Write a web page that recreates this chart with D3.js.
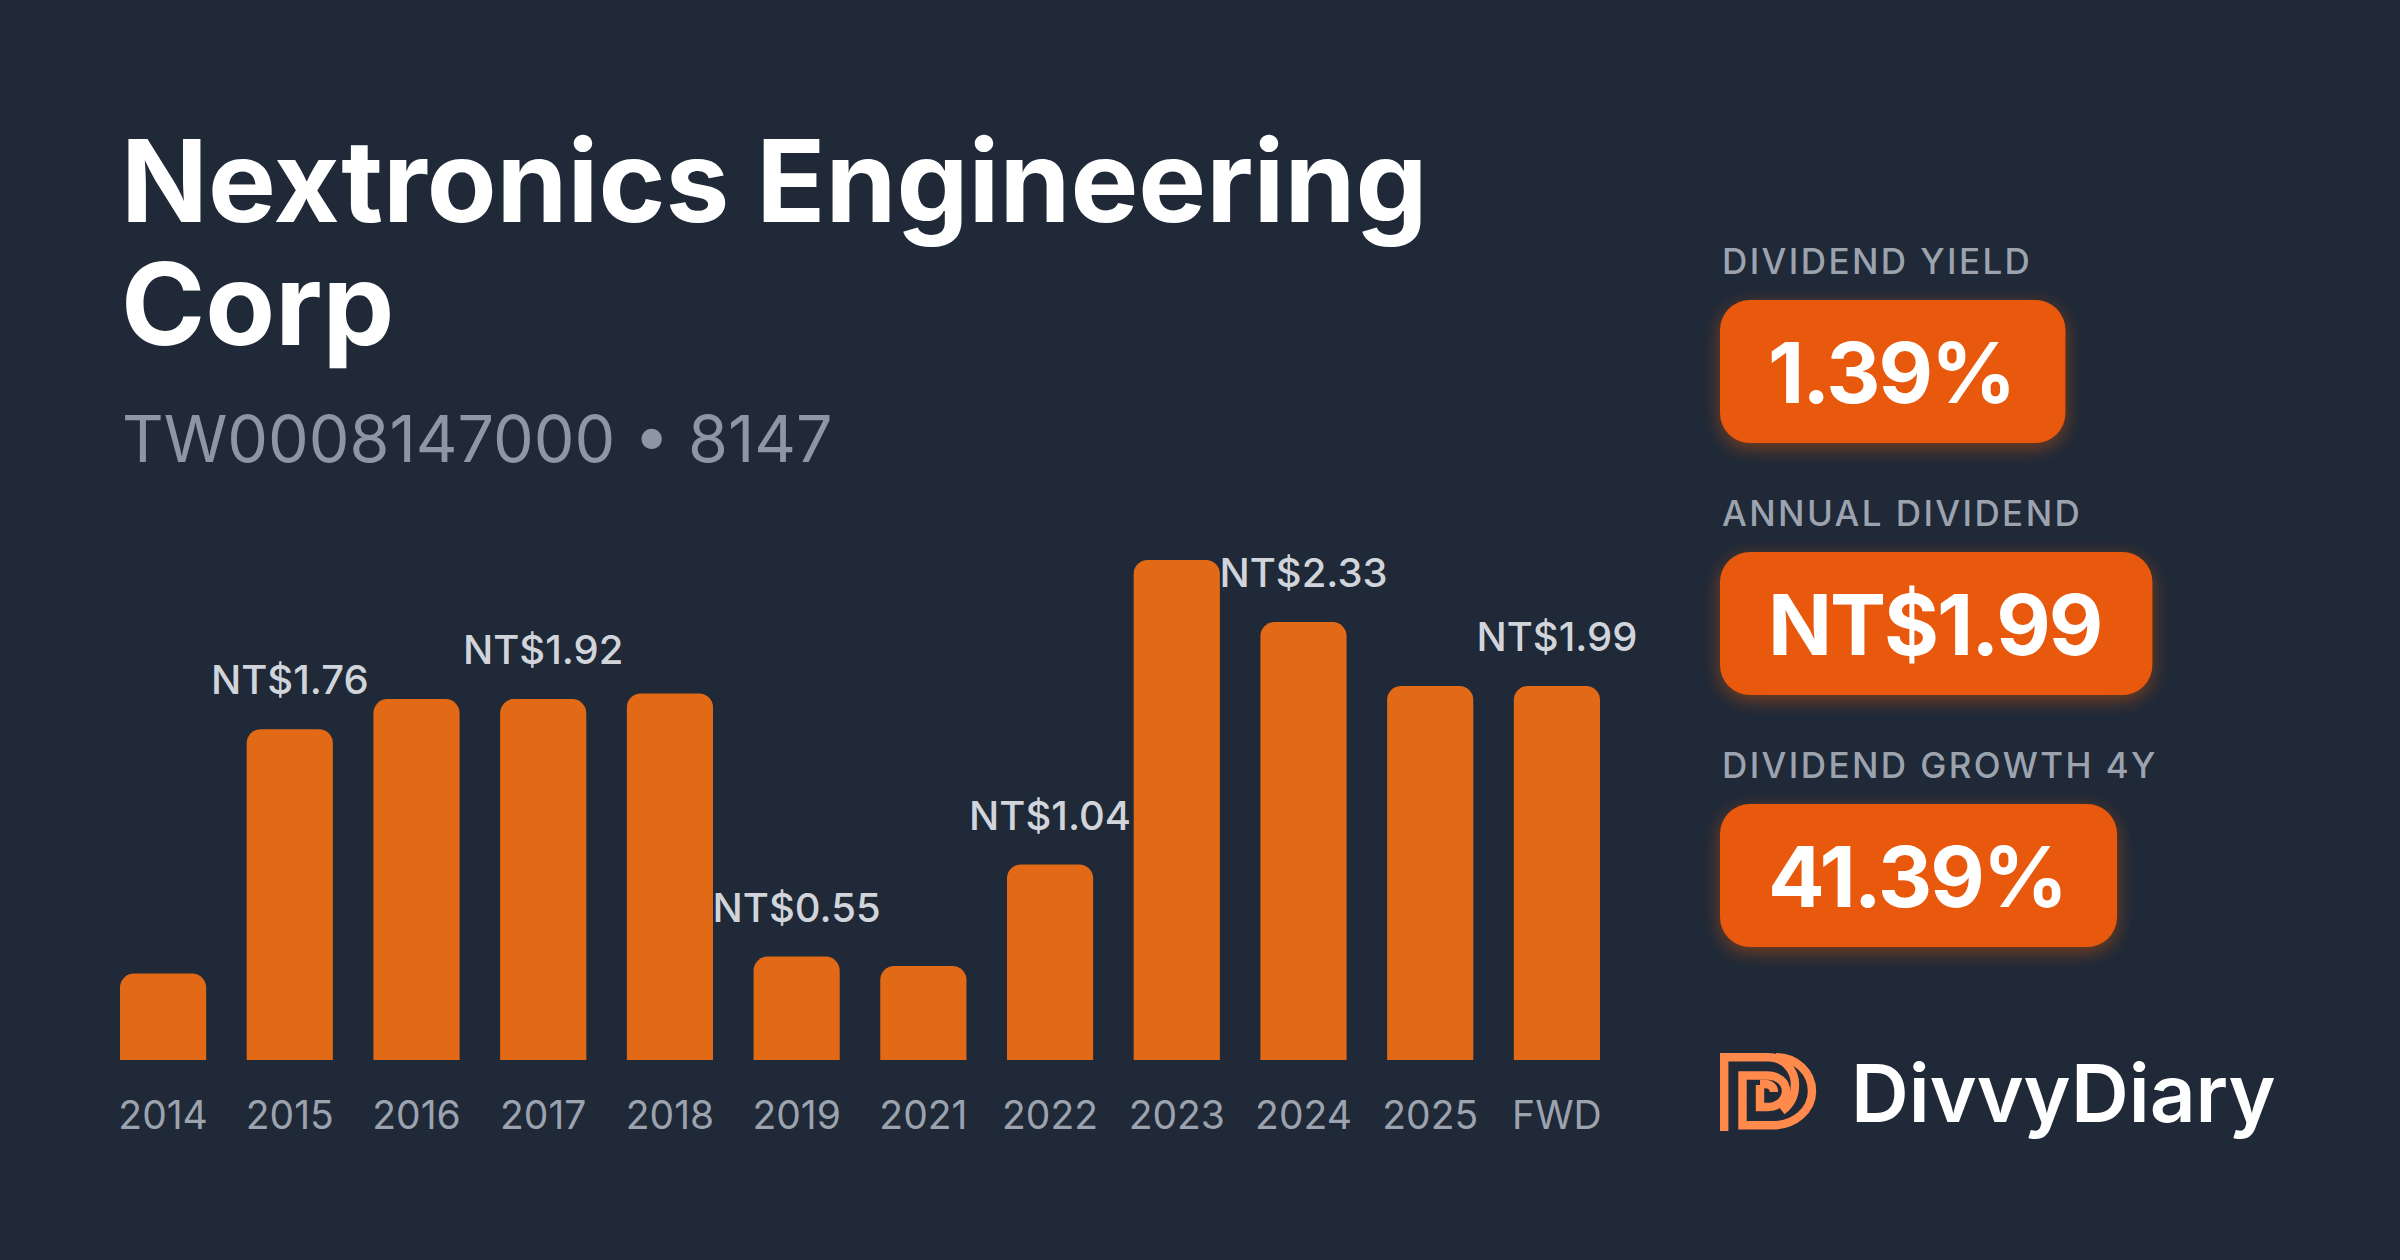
<!DOCTYPE html>
<html>
<head>
<meta charset="utf-8">
<script src="https://cdn.jsdelivr.net/npm/d3@7"></script>
<style>
  body { margin: 0; background: #1f2937; }
  svg { display: block; font-family: Inter, "Noto Sans", sans-serif; }
</style>
</head>
<body>
<script>
// data
const years = ["2014", "2015", "2016", "2017", "2018", "2019", "2021", "2022", "2023", "2024", "2025", "FWD"];
const dividends = [0.46, 1.76, 1.92, 1.92, 1.95, 0.55, 0.50, 1.04, 2.66, 2.33, 1.99, 1.99];
const labeledYears = ["2015", "2017", "2019", "2022", "2024", "FWD"];

const statLabels = ["DIVIDEND YIELD", "ANNUAL DIVIDEND", "DIVIDEND GROWTH 4Y"];
const statValues = ["1.39%", "NT$1.99", "41.39%"];

const titleLines = ["Nextronics Engineering", "Corp"];
const subtitle = "TW0008147000 \u2022 8147";
// data

const width = 2400, height = 1260;
const barColor = "#e26a17";

const svg = d3.select("body").append("svg")
  .attr("width", width)
  .attr("height", height);

svg.append("rect")
  .attr("width", width)
  .attr("height", height)
  .attr("fill", "#1f2937");

const defs = svg.append("defs");
const glow = defs.append("filter")
  .attr("id", "glow")
  .attr("x", "-20%").attr("y", "-30%")
  .attr("width", "140%").attr("height", "160%");
glow.append("feDropShadow")
  .attr("dx", 0).attr("dy", 5)
  .attr("stdDeviation", 9)
  .attr("flood-color", "#ea580c")
  .attr("flood-opacity", 0.45);

// title
svg.selectAll(".title")
  .data(titleLines)
  .enter().append("text")
  .attr("class", "title")
  .attr("x", 121)
  .attr("y", (d, i) => 222 + i * 123)
  .attr("fill", "#ffffff")
  .attr("font-size", 114)
  .attr("font-weight", 700)
  .text(d => d);

svg.append("text")
  .attr("x", 122)
  .attr("y", 462)
  .attr("fill", "#8f96a3")
  .attr("font-size", 64.6)
  .text(subtitle);

// scales
const x = d3.scaleBand()
  .domain(years)
  .range([120, 1600])
  .paddingInner(0.32)
  .paddingOuter(0);

const y = d3.scaleLinear()
  .domain([0, d3.max(dividends)])
  .range([1060, 560]);

const data = years.map((d, i) => ({ year: d, value: dividends[i] }));

// bars with rounded top corners
function barPath(d) {
  const x0 = x(d.year), w = x.bandwidth();
  const top = y(d.value), base = y(0);
  const r = Math.min(14, (base - top) / 2);
  const p = d3.path();
  p.moveTo(x0, base);
  p.lineTo(x0, top + r);
  p.arcTo(x0, top, x0 + r, top, r);
  p.lineTo(x0 + w - r, top);
  p.arcTo(x0 + w, top, x0 + w, top + r, r);
  p.lineTo(x0 + w, base);
  p.closePath();
  return p.toString();
}

svg.selectAll(".bar")
  .data(data)
  .enter().append("path")
  .attr("class", "bar")
  .attr("d", barPath)
  .attr("fill", barColor);

svg.selectAll(".bar-label")
  .data(data.filter(d => labeledYears.includes(d.year)))
  .enter().append("text")
  .attr("class", "bar-label")
  .attr("x", d => x(d.year) + x.bandwidth() / 2)
  .attr("y", d => y(d.value) - 35)
  .attr("text-anchor", "middle")
  .attr("fill", "#d1d5db")
  .attr("font-size", 40)
  .attr("font-weight", 500)
  .text(d => "NT$" + d3.format(".2f")(d.value));

// x axis
const xAxis = svg.append("g")
  .attr("transform", `translate(0, ${y(0)})`)
  .call(d3.axisBottom(x).tickSize(0).tickPadding(41));
xAxis.select(".domain").remove();
xAxis.selectAll("text")
  .attr("fill", "#9ca3af")
  .attr("font-size", 39)
  .attr("font-family", "Inter, sans-serif");

// stats panel
const stat = svg.selectAll(".stat")
  .data(statLabels.map((d, i) => ({ label: d, value: statValues[i] })))
  .enter().append("g")
  .attr("class", "stat")
  .attr("transform", (d, i) => `translate(1720, ${248 + i * 252})`);

stat.append("text")
  .attr("x", 2)
  .attr("y", 26)
  .attr("fill", "#9ca3af")
  .attr("font-size", 35)
  .attr("font-weight", 500)
  .attr("letter-spacing", 2.4)
  .text(d => d.label);

const box = stat.append("rect")
  .attr("y", 52)
  .attr("height", 143)
  .attr("rx", 30)
  .attr("fill", "#e8590c")
  .attr("filter", "url(#glow)");

const val = stat.append("text")
  .attr("x", 48)
  .attr("y", 52 + 143 / 2 + 31)
  .attr("fill", "#ffffff")
  .attr("font-size", 84)
  .attr("font-weight", 700)
  .attr("letter-spacing", -2)
  .text(d => d.value);

val.each(function(d) { d.w = this.getComputedTextLength(); });
box.attr("width", d => d.w + 99);

// logo
const logo = svg.append("g")
  .attr("transform", "translate(1720, 1053)")
  .attr("fill", "none")
  .attr("stroke", "#ff8a4c")
  .attr("stroke-width", 8.4);

logo.append("path")
  .attr("d", "M4.2,78 V4.2 H48 C64,4.2 75,17 75,32 C75,44 70,52 62,58");
logo.append("path")
  .attr("d", "M40,32 V54 H47 C58,54 66,47 66,38 C66,29 58,22.5 47,22.5 H22.5 V72.3 H52 C75,72.3 92,57 92,38.3 C92,19 76,4.2 56,4.2");
logo.append("path")
  .attr("d", "M40,31 H45 C50,31 54,34 54,39");

svg.append("text")
  .attr("x", 1851)
  .attr("y", 1122)
  .attr("fill", "#ffffff")
  .attr("font-size", 80)
  .attr("font-weight", 600)
  .text("DivvyDiary");
</script>
</body>
</html>
